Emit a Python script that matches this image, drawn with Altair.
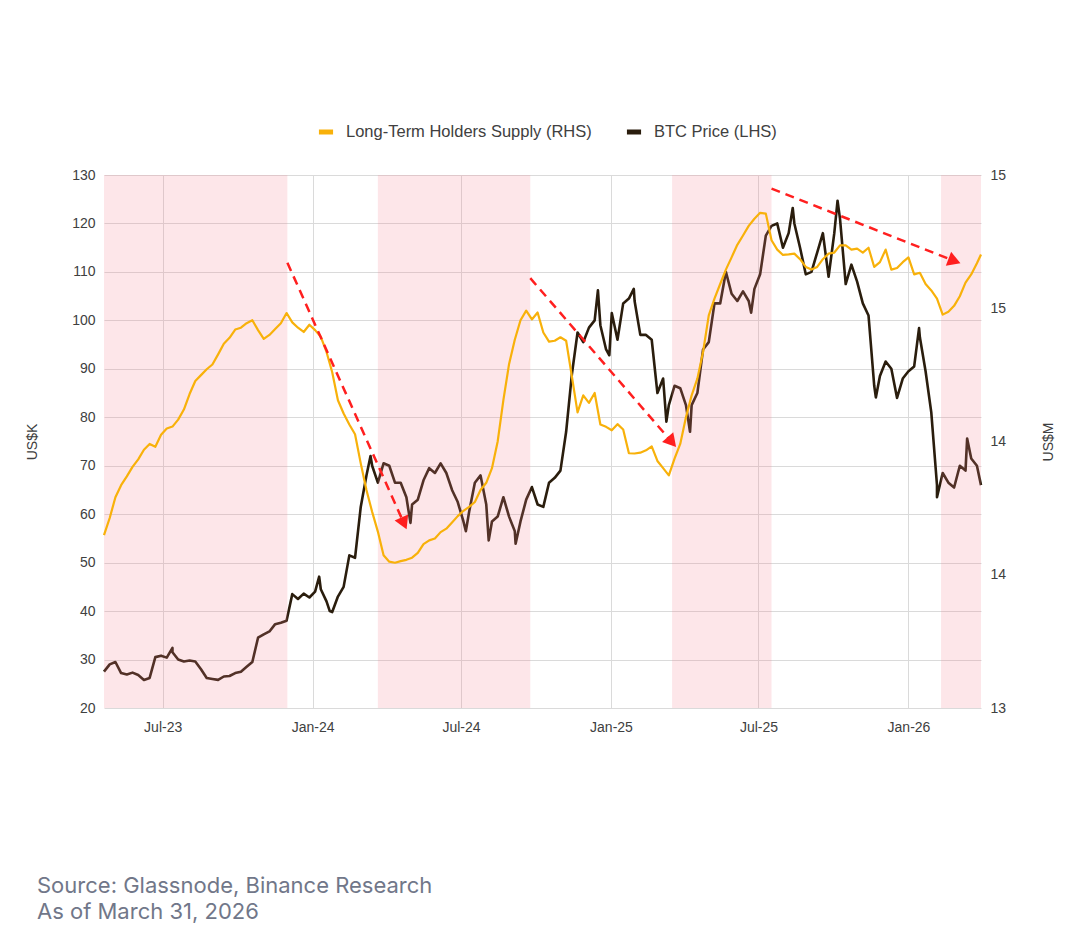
import pandas as pd
import altair as alt

# weekly samples, last point is the 31 Mar 2026 close
start_day = "2023-04-20"
last_day = "2026-03-31"
week_dates = list(pd.date_range(start_day, periods=154, freq="7D")) + [pd.Timestamp(last_day)]

# BTC price, US$K (left axis)
btc_price_k = [
    27.5, 29.0, 29.5, 27.2, 26.9, 27.3, 26.8, 25.8, 26.2, 30.5,
    30.8, 30.4, 31.5, 30.0, 29.6, 29.8, 29.6, 28.0, 26.2, 26.0,
    25.8, 26.5, 26.6, 27.2, 27.5, 28.5,
    29.5, 34.5, 35.2, 35.8, 37.3, 37.6, 38.0, 43.5, 42.5, 43.6,
    42.8, 44.0, 44.5, 42.0, 39.8, 43.0, 45.0, 51.5, 51.0, 61.5,
    68.0, 70.0, 66.5, 70.5, 70.0, 66.5,
    66.5, 63.5, 62.0, 63.0, 67.0, 69.5, 68.5, 70.5, 68.5, 65.0,
    62.5, 58.5, 60.5, 66.5, 68.0, 62.0, 58.5, 59.5, 63.5, 59.5,
    56.5, 58.5, 63.0, 65.6, 62.0,
    61.5, 66.5, 67.5, 69.0, 77.0, 88.8, 97.5, 95.5, 98.5, 100.0,
    99.0, 94.0, 101.5, 96.0, 103.5, 104.5, 104.0, 97.0, 97.0, 96.0,
    85.0, 88.0, 82.5, 86.5, 86.0, 82.5,
    82.5, 85.0, 94.0, 95.5, 103.5, 103.5, 110.0, 105.5, 104.0, 106.0,
    104.0, 106.5, 109.5, 117.5, 119.5, 120.0, 115.0, 118.0, 120.0, 115.0,
    109.5, 110.0, 114.0, 118.0, 109.0,
    118.0, 121.0, 107.5, 111.5, 108.0, 103.5, 101.0, 86.5, 88.5, 91.5,
    90.0, 84.0, 88.0, 89.5, 90.5, 96.5, 89.5, 81.0, 66.0, 68.5,
    66.5, 65.5, 70.0, 69.0, 71.5, 70.0,
    66.0,
]

# spikes and dips between the weekly samples
btc_extra_dates = [
    "2023-07-13", "2024-01-09", "2024-01-22", "2024-03-12", "2024-04-30",
    "2024-07-07", "2024-08-04", "2024-09-06", "2024-12-16", "2024-12-30",
    "2025-01-29", "2025-03-10", "2025-04-08", "2025-06-22", "2025-08-12",
    "2025-10-06", "2025-11-22", "2026-01-14", "2026-02-05", "2026-03-14",
]
btc_extra_k = [
    32.4, 47.1, 40.0, 72.0, 58.2,
    56.5, 54.6, 53.9, 106.2, 92.8,
    106.5, 79.1, 77.0, 101.6, 123.2,
    124.7, 84.1, 98.4, 63.5, 75.6,
]

# Long-term holders supply, million BTC (right axis)
lth_supply_m = [
    13.649, 13.713, 13.791, 13.836, 13.869, 13.905, 13.933, 13.969, 13.991, 13.980,
    14.025, 14.049, 14.056, 14.082, 14.120, 14.178, 14.227, 14.249, 14.271, 14.289,
    14.327, 14.367, 14.389, 14.420, 14.427, 14.444,
    14.455, 14.418, 14.385, 14.400, 14.422, 14.444, 14.482, 14.447, 14.427, 14.411,
    14.438, 14.418, 14.393, 14.336, 14.260, 14.155, 14.105, 14.064, 14.027, 13.918,
    13.818, 13.736, 13.662, 13.573, 13.549, 13.545,
    13.551, 13.556, 13.564, 13.582, 13.615, 13.629, 13.636, 13.660, 13.673, 13.696,
    13.720, 13.740, 13.755, 13.773, 13.818, 13.845, 13.900, 14.000, 14.155, 14.291,
    14.382, 14.455, 14.491, 14.458, 14.484,
    14.409, 14.375, 14.378, 14.391, 14.378, 14.245, 14.109, 14.173, 14.145, 14.182,
    14.064, 14.055, 14.042, 14.065, 14.045, 13.956, 13.955, 13.958, 13.967, 13.982,
    13.927, 13.900, 13.873, 13.936, 13.991, 14.091,
    14.173, 14.236, 14.336, 14.473, 14.536, 14.591, 14.645, 14.691, 14.738, 14.773,
    14.809, 14.836, 14.858, 14.855, 14.755, 14.720, 14.700, 14.702, 14.705, 14.684,
    14.655, 14.645, 14.655, 14.684, 14.705,
    14.709, 14.736, 14.736, 14.720, 14.724, 14.709, 14.727, 14.655, 14.673, 14.720,
    14.645, 14.651, 14.673, 14.691, 14.627, 14.633, 14.591, 14.567, 14.536, 14.476,
    14.487, 14.509, 14.545, 14.596, 14.627, 14.669,
    14.702,
]

# pink periods
shade_start = ["2023-04-20", "2024-03-21", "2025-03-17", "2026-02-10"]
shade_end = ["2023-12-01", "2024-09-24", "2025-07-17", "2026-03-31"]

# red dashed arrows, in the right-hand (LTH) units
arrow_from_date = ["2023-12-01", "2024-09-24", "2025-07-17"]
arrow_to_date = ["2024-04-21", "2025-03-15", "2026-02-24"]
arrow_from_m = [14.671, 14.613, 14.949]
arrow_to_m = [13.700, 14.004, 14.680]
arrow_head_angle = [156, 139, 111]

LTH_NAME = "Long-Term Holders Supply (RHS)"
BTC_NAME = "BTC Price (LHS)"
ORANGE = "#f8b10a"
DARK = "#2a1d0d"
RED = "#ff1f1f"
FONT = "Liberation Sans"
INK = "#404040"

btc_df = pd.concat([
    pd.DataFrame({"date": week_dates, "btc": btc_price_k}),
    pd.DataFrame({"date": pd.to_datetime(btc_extra_dates), "btc": btc_extra_k}),
]).sort_values("date").reset_index(drop=True)
lth_df = pd.DataFrame({"date": week_dates, "lth": lth_supply_m})
shades = pd.DataFrame({"start": pd.to_datetime(shade_start), "end": pd.to_datetime(shade_end)})
arrows = pd.DataFrame({
    "x0": pd.to_datetime(arrow_from_date), "x1": pd.to_datetime(arrow_to_date),
    "y0": arrow_from_m, "y1": arrow_to_m, "ang": arrow_head_angle,
})

x_scale = alt.Scale(domain=[alt.DateTime(year=2023, month=4, date=20),
                            alt.DateTime(year=2026, month=3, date=31)])
x_ticks = [alt.DateTime(year=y, month=m, date=1)
           for y, m in [(2023, 7), (2024, 1), (2024, 7), (2025, 1), (2025, 7), (2026, 1)]]
x_axis = alt.Axis(values=x_ticks, format="%b-%y", title=None, grid=True, domain=False,
                  ticks=False, labelPadding=12, labelFontSize=14, labelFont=FONT,
                  labelColor=INK, gridColor="#dadada")

left_scale = alt.Scale(domain=[20, 130], nice=False)
left_axis = alt.Axis(values=list(range(20, 131, 10)), title="US$K", grid=True,
                     domain=False, ticks=False, labelPadding=9, labelFontSize=14,
                     labelFont=FONT, labelColor=INK, gridColor="#dadada",
                     titleFont=FONT, titleFontSize=14, titleFontWeight="normal",
                     titleColor=INK, titlePadding=32)
right_scale = alt.Scale(domain=[13, 15], nice=False)
right_axis = alt.Axis(orient="right", values=[13, 13.5, 14, 14.5, 15], format=".0f",
                      title="US$M", grid=False, domain=False, ticks=False,
                      labelPadding=9, labelFontSize=14, labelFont=FONT,
                      labelColor=INK, titleFont=FONT, titleFontSize=14,
                      titleFontWeight="normal", titleColor=INK,
                      titleAngle=270, titlePadding=50)

color_scale = alt.Scale(domain=[LTH_NAME, BTC_NAME], range=[ORANGE, DARK])
legend = alt.Legend(title=None, orient="none", legendX=212, legendY=-53, direction="horizontal",
                    symbolType="stroke", symbolStrokeWidth=5, symbolSize=200,
                    labelFontSize=16.5, labelFont=FONT, labelColor=INK, labelLimit=400,
                    columnPadding=24, labelOffset=10)

btc_line = alt.Chart(btc_df).transform_calculate(series=f"'{BTC_NAME}'").mark_line(
    strokeWidth=2.6, strokeJoin="round"
).encode(
    x=alt.X("date:T", scale=x_scale, axis=x_axis),
    y=alt.Y("btc:Q", scale=left_scale, axis=left_axis),
    color=alt.Color("series:N", scale=color_scale, legend=legend),
)

shade = alt.Chart(shades).mark_rect(color="#f58291", opacity=0.2).encode(
    x=alt.X("start:T", scale=x_scale, axis=x_axis),
    x2="end:T",
)

lth_line = alt.Chart(lth_df).transform_calculate(series=f"'{LTH_NAME}'").mark_line(
    strokeWidth=2.2, strokeJoin="round"
).encode(
    x=alt.X("date:T", scale=x_scale, axis=x_axis),
    y=alt.Y("lth:Q", scale=right_scale, axis=right_axis),
    color=alt.Color("series:N", scale=color_scale, legend=legend),
)

arrow_rule = alt.Chart(arrows).mark_rule(color=RED, strokeWidth=2.5, strokeDash=[9, 6]).encode(
    x=alt.X("x0:T", scale=x_scale, axis=x_axis),
    x2="x1:T",
    y=alt.Y("y0:Q", scale=right_scale, axis=right_axis),
    y2="y1:Q",
)

arrow_head = alt.Chart(arrows).mark_point(shape="triangle", filled=True, size=220,
                                          color=RED, opacity=1).encode(
    x=alt.X("x1:T", scale=x_scale, axis=x_axis),
    y=alt.Y("y1:Q", scale=right_scale, axis=right_axis),
    angle=alt.Angle("ang:Q", scale=None),
)

left = alt.layer(btc_line, shade)
right = alt.layer(lth_line, arrow_rule, arrow_head)

chart = alt.layer(left, right).resolve_scale(y="independent").properties(
    width=877,
    height=533,
    autosize=alt.AutoSizeParams(type="none"),
    padding={"left": 96, "top": 167, "right": 90, "bottom": 230},
    title=alt.Title(
        ["Source: Glassnode, Binance Research", "As of March 31, 2026"],
        orient="bottom", anchor="start", frame="group", dx=-67, offset=142,
        fontSize=22, font="Inter", fontWeight="normal", color="#717789", lineHeight=26,
    ),
).configure_view(stroke=None)

chart.save("out.html", embed_options={"renderer": "svg", "actions": False})
